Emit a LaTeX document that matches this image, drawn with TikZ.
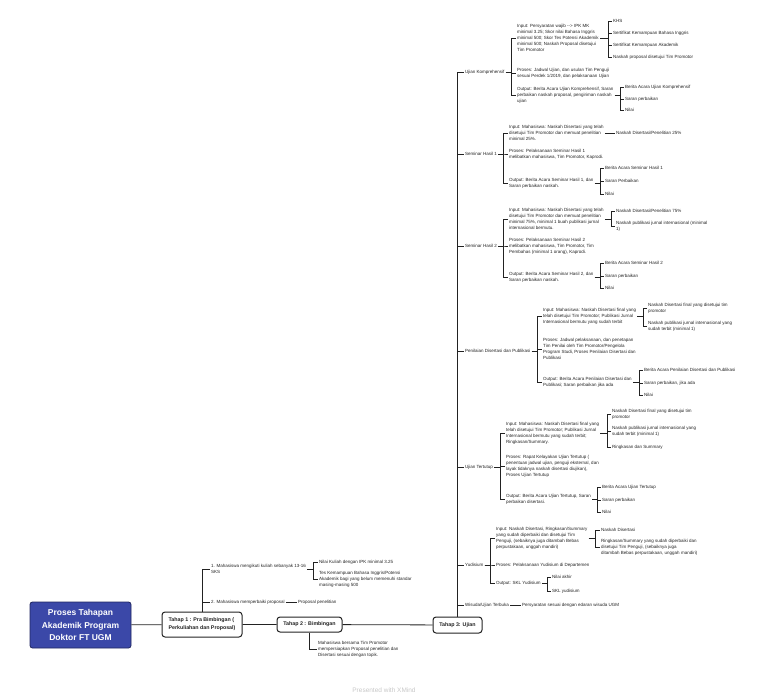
\documentclass[tikz,border=0pt]{standalone}
\usepackage{fontspec}
\setmainfont{Liberation Sans}
\definecolor{rootblue}{HTML}{3B48A8}
\definecolor{rootedge}{HTML}{1F2660}
\definecolor{ink}{HTML}{222222}
\begin{document}
\begin{tikzpicture}[x=1pt,y=-1pt,
  txt/.style={anchor=west,align=left,inner sep=1pt,text=ink,font=\fontsize{4.5}{6}\selectfont},
  stage/.style={draw=ink,line width=1pt,rounded corners=3pt,fill=white,text=ink,align=left,inner sep=0pt,font=\bfseries\fontsize{5.3}{8}\selectfont},
  link/.style={draw=ink,line width=.8pt}]
\useasboundingbox (0,0) rectangle (768,699);
% root and the three stages
    \node[fill=rootblue,draw=rootedge,line width=.8pt,rounded corners=2.5pt,minimum width=101pt,minimum height=46pt,text=white,align=center,font=\bfseries\fontsize{8.5}{12.3}\selectfont](R) at (80.5,625){Proses Tahapan\\Akademik Program\\Doktor FT UGM};
    \node[stage,minimum width=80pt,minimum height=25pt](T1) at (202,624.5){Tahap 1 : Pra Bimbingan (\\Perkuliahan dan Proposal)};
    \node[stage,minimum width=65pt,minimum height=15pt](T2) at (309.5,624.5){Tahap 2 : Bimbingan};
    \node[stage,minimum width=49pt,minimum height=16pt](T3) at (457.5,625){Tahap 3: Ujian};
    \draw[link](R)--(T1) (T1)--(T2) (T2)--(T3);
% tahap 1
    \node[txt](P1) at (210,569){1. Mahasiswa mengikuti kuliah sebanyak 13-16\\SKS};
    \node[txt](P2) at (210,602){2. Mahasiswa memperbaiki proposal};
    \node[txt](P11) at (318,562){Nilai Kuliah dengan IPK minimal 3.25};
    \node[txt](P12) at (318,579){Tes Kemampuan Bahasa Inggris/Potensi\\Akademik bagi yang belum memenuhi standar\\masing-masing 500};
    \node[txt](P21) at (297,602){Proposal penelitian};
    \draw[link](T1.north)|-(P1.west) (T1.north)|-(P2.west);
    \draw[link](P1.east)-|([xshift=-5pt]P11.west)|-(P11.west) (P1.east)-|([xshift=-5pt]P12.west)|-(P12.west) (P2.east)--(P21.west);
% tahap 2
    \node[txt](B1) at (317,649){Mahasiswa bersama Tim Promotor\\mempersiapkan Proposal penelitian dan\\Disertasi sesuai dengan topik.};
    \draw[link](T2.south)|-(B1.west);
% tahap 3
    \node[txt](K1) at (464,72){Ujian Komprehensif};
    \node[txt](K2) at (464,154){Seminar Hasil 1};
    \node[txt](K3) at (464,246){Seminar Hasil 2};
    \node[txt](K4) at (464,351){Penilaian Disertasi dan Publikasi};
    \node[txt](K5) at (464,467){Ujian Tertutup};
    \node[txt](K6) at (464,565){Yudisium};
    \node[txt](K7) at (464,605){Wisuda/Ujian Terbuka};
    \draw[link](T3.north)|-(K1.west) (T3.north)|-(K2.west) (T3.north)|-(K3.west) (T3.north)|-(K4.west)
        (T3.north)|-(K5.west) (T3.north)|-(K6.west) (T3.north)|-(K7.west);
% ujian komprehensif
    \node[txt](K1a) at (516,38){Input: Persyaratan wajib {-}{-}> IPK MK\\minimal 3.25; Skor nilai Bahasa Inggris\\minimal 500; Skor Tes Potensi Akademik\\minimal 500; Naskah Proposal disetujui\\Tim Promotor};
    \node[txt](K1b) at (516,73){Proses: Jadwal Ujian, dan usulan Tim Penguji\\sesuai Perdek 1/2019, dan pelaksanaan Ujian};
    \node[txt](K1c) at (516,95){Output: Berita Acara Ujian Komprehensif, Saran\\perbaikan naskah proposal, pengiriman naskah\\ujian};
    \node[txt](K1a1) at (612,21){KHS};
    \node[txt](K1a2) at (612,33){Sertifikat Kemampuan Bahasa Inggris};
    \node[txt](K1a3) at (612,45){Sertifikat Kemampuan Akademik};
    \node[txt](K1a4) at (612,57){Naskah proposal disetujui Tim Promotor};
    \node[txt](K1c1) at (624,87){Berita Acara Ujian Komprehensif};
    \node[txt](K1c2) at (624,99){Saran perbaikan};
    \node[txt](K1c3) at (624,110){Nilai};
    \draw[link](K1.east)-|([xshift=-5pt]K1a.west)|-(K1a.west) (K1.east)-|([xshift=-5pt]K1b.west)|-(K1b.west) (K1.east)-|([xshift=-5pt]K1c.west)|-(K1c.west);
    \draw[link](K1a.east)-|([xshift=-4pt]K1a1.west)|-(K1a1.west) (K1a.east)-|([xshift=-4pt]K1a2.west)|-(K1a2.west)
        (K1a.east)-|([xshift=-4pt]K1a3.west)|-(K1a3.west) (K1a.east)-|([xshift=-4pt]K1a4.west)|-(K1a4.west);
    \draw[link](K1c.east)-|([xshift=-4pt]K1c1.west)|-(K1c1.west) (K1c.east)-|([xshift=-4pt]K1c2.west)|-(K1c2.west) (K1c.east)-|([xshift=-4pt]K1c3.west)|-(K1c3.west);
% seminar hasil 1
    \node[txt](K2a) at (508,133){Input: Mahasiswa: Naskah Disertasi yang telah\\disetujui Tim Promotor dan memuat penelitian\\minimal 25\%.};
    \node[txt](K2b) at (508,154){Proses: Pelaksanaan Seminar Hasil 1\\melibatkan mahasiswa, Tim Promotor, Kaprodi.};
    \node[txt](K2c) at (508,183){Output: Berita Acara Seminar Hasil 1, dan\\Saran perbaikan naskah.};
    \node[txt](K2a1) at (615,133){Naskah Disertasi/Penelitian 25\%};
    \node[txt](K2c1) at (604,168){Berita Acara Seminar Hasil 1};
    \node[txt](K2c2) at (604,181){Saran Perbaikan};
    \node[txt](K2c3) at (604,194){Nilai};
    \draw[link](K2.east)-|([xshift=-5pt]K2a.west)|-(K2a.west) (K2.east)-|([xshift=-5pt]K2b.west)|-(K2b.west) (K2.east)-|([xshift=-5pt]K2c.west)|-(K2c.west);
    \draw[link](K2a.east)--(K2a1.west);
    \draw[link](K2c.east)-|([xshift=-4pt]K2c1.west)|-(K2c1.west) (K2c.east)-|([xshift=-4pt]K2c2.west)|-(K2c2.west) (K2c.east)-|([xshift=-4pt]K2c3.west)|-(K2c3.west);
% seminar hasil 2
    \node[txt](K3a) at (508,219){Input: Mahasiswa: Naskah Disertasi yang telah\\disetujui Tim Promotor dan memuat penelitian\\minimal 75\%, minimal 1 buah publikasi jurnal\\internasional bermutu.};
    \node[txt](K3b) at (508,246){Proses: Pelaksanaan Seminar Hasil 2\\melibatkan mahasiswa, Tim Promotor, Tim\\Pembahas (minimal 1 orang), Kaprodi.};
    \node[txt](K3c) at (508,277){Output: Berita Acara Seminar Hasil 2, dan\\Saran perbaikan naskah.};
    \node[txt](K3a1) at (615,211){Naskah Disertasi/Penelitian 75\%};
    \node[txt](K3a2) at (615,226){Naskah publikasi jurnal internasional (minimal\\1)};
    \node[txt](K3c1) at (604,263){Berita Acara Seminar Hasil 2};
    \node[txt](K3c2) at (604,276){Saran perbaikan};
    \node[txt](K3c3) at (604,288){Nilai};
    \draw[link](K3.east)-|([xshift=-5pt]K3a.west)|-(K3a.west) (K3.east)-|([xshift=-5pt]K3b.west)|-(K3b.west) (K3.east)-|([xshift=-5pt]K3c.west)|-(K3c.west);
    \draw[link](K3a.east)-|([xshift=-4pt]K3a1.west)|-(K3a1.west) (K3a.east)-|([xshift=-4pt]K3a2.west)|-(K3a2.west);
    \draw[link](K3c.east)-|([xshift=-4pt]K3c1.west)|-(K3c1.west) (K3c.east)-|([xshift=-4pt]K3c2.west)|-(K3c2.west) (K3c.east)-|([xshift=-4pt]K3c3.west)|-(K3c3.west);
% penilaian disertasi dan publikasi
    \node[txt](K4a) at (542,316){Input: Mahasiswa: Naskah Disertasi final yang\\telah disetujui Tim Promotor; Publikasi Jurnal\\Internasional bermutu yang sudah terbit};
    \node[txt](K4b) at (542,349){Proses: Jadwal pelaksanaan, dan penetapan\\Tim Penilai oleh Tim Promotor/Pengelola\\Program Studi, Proses Penilaian Disertasi dan\\Publikasi};
    \node[txt](K4c) at (542,382){Output: Berita Acara Penilaian Disertasi dan\\Publikasi; Saran perbaikan jika ada};
    \node[txt](K4a1) at (647,308){Naskah Disertasi final yang disetujui tim\\promotor};
    \node[txt](K4a2) at (647,326){Naskah publikasi jurnal internasional yang\\sudah terbit (minimal 1)};
    \node[txt](K4c1) at (643,370){Berita Acara Penilaian Disertasi dan Publikasi};
    \node[txt](K4c2) at (643,383){Saran perbaikan, jika ada};
    \node[txt](K4c3) at (643,395){Nilai};
    \draw[link](K4.east)-|([xshift=-5pt]K4a.west)|-(K4a.west) (K4.east)-|([xshift=-5pt]K4b.west)|-(K4b.west) (K4.east)-|([xshift=-5pt]K4c.west)|-(K4c.west);
    \draw[link](K4a.east)-|([xshift=-4pt]K4a1.west)|-(K4a1.west) (K4a.east)-|([xshift=-4pt]K4a2.west)|-(K4a2.west);
    \draw[link](K4c.east)-|([xshift=-4pt]K4c1.west)|-(K4c1.west) (K4c.east)-|([xshift=-4pt]K4c2.west)|-(K4c2.west) (K4c.east)-|([xshift=-4pt]K4c3.west)|-(K4c3.west);
% ujian tertutup
    \node[txt](K5a) at (505,433){Input: Mahasiswa: Naskah Disertasi final yang\\telah disetujui Tim Promotor; Publikasi Jurnal\\Internasional bermutu yang sudah terbit;\\Ringkasan/Summary.};
    \node[txt](K5b) at (505,466){Proses: Rapat Kelayakan Ujian Tertutup (\\penentuan jadwal ujian, penguji eksternal, dan\\layak tidaknya naskah disertasi diujikan),\\Proses Ujian Tertutup};
    \node[txt](K5c) at (505,499){Output: Berita Acara Ujian Tertutup, Saran\\perbaikan disertasi.};
    \node[txt](K5a1) at (611,414){Naskah Disertasi final yang disetujui tim\\promotor};
    \node[txt](K5a2) at (611,431){Naskah publikasi jurnal internasional yang\\sudah terbit (minimal 1)};
    \node[txt](K5a3) at (611,447){Ringkasan dan Summary};
    \node[txt](K5c1) at (601,487){Berita Acara Ujian Tertutup};
    \node[txt](K5c2) at (601,500){Saran perbaikan};
    \node[txt](K5c3) at (601,512){Nilai};
    \draw[link](K5.east)-|([xshift=-5pt]K5a.west)|-(K5a.west) (K5.east)-|([xshift=-5pt]K5b.west)|-(K5b.west) (K5.east)-|([xshift=-5pt]K5c.west)|-(K5c.west);
    \draw[link](K5a.east)-|([xshift=-4pt]K5a1.west)|-(K5a1.west) (K5a.east)-|([xshift=-4pt]K5a2.west)|-(K5a2.west) (K5a.east)-|([xshift=-4pt]K5a3.west)|-(K5a3.west);
    \draw[link](K5c.east)-|([xshift=-4pt]K5c1.west)|-(K5c1.west) (K5c.east)-|([xshift=-4pt]K5c2.west)|-(K5c2.west) (K5c.east)-|([xshift=-4pt]K5c3.west)|-(K5c3.west);
% yudisium
    \node[txt](K6a) at (495,538){Input: Naskah Disertasi, Ringkasan/Summary\\yang sudah diperbaiki dan disetujui Tim\\Penguji, (sebaiknya juga ditambah Bebas\\perpustakaan, unggah mandiri)};
    \node[txt](K6b) at (495,565){Proses: Pelaksanaan Yudisium di Departemen};
    \node[txt](K6c) at (495,583){Output: SKL Yudisium};
    \node[txt](K6a1) at (600,530){Naskah Disertasi};
    \node[txt](K6a2) at (600,547){Ringkasan/Summary yang sudah diperbaiki dan\\disetujui Tim Penguji, (sebaiknya juga\\ditambah Bebas perpustakaan, unggah mandiri)};
    \node[txt](K6c1) at (551,577){Nilai akhir};
    \node[txt](K6c2) at (551,591){SKL yudisium};
    \draw[link](K6.east)-|([xshift=-5pt]K6a.west)|-(K6a.west) (K6.east)-|([xshift=-5pt]K6b.west)|-(K6b.west) (K6.east)-|([xshift=-5pt]K6c.west)|-(K6c.west);
    \draw[link](K6a.east)-|([xshift=-5pt]K6a1.west)|-(K6a1.west) (K6a.east)-|([xshift=-5pt]K6a2.west)|-(K6a2.west);
    \draw[link](K6c.east)-|([xshift=-4pt]K6c1.west)|-(K6c1.west) (K6c.east)-|([xshift=-4pt]K6c2.west)|-(K6c2.west);
% wisuda
    \node[txt](K7a) at (521,605){Persyaratan sesuai dengan edaran wisuda UGM};
    \draw[link](K7.east)--(K7a.west);
    \node[text=black!22,font=\fontsize{6.5}{8}\selectfont](W) at (384,690){Presented with XMind};
\end{tikzpicture}
\end{document}
